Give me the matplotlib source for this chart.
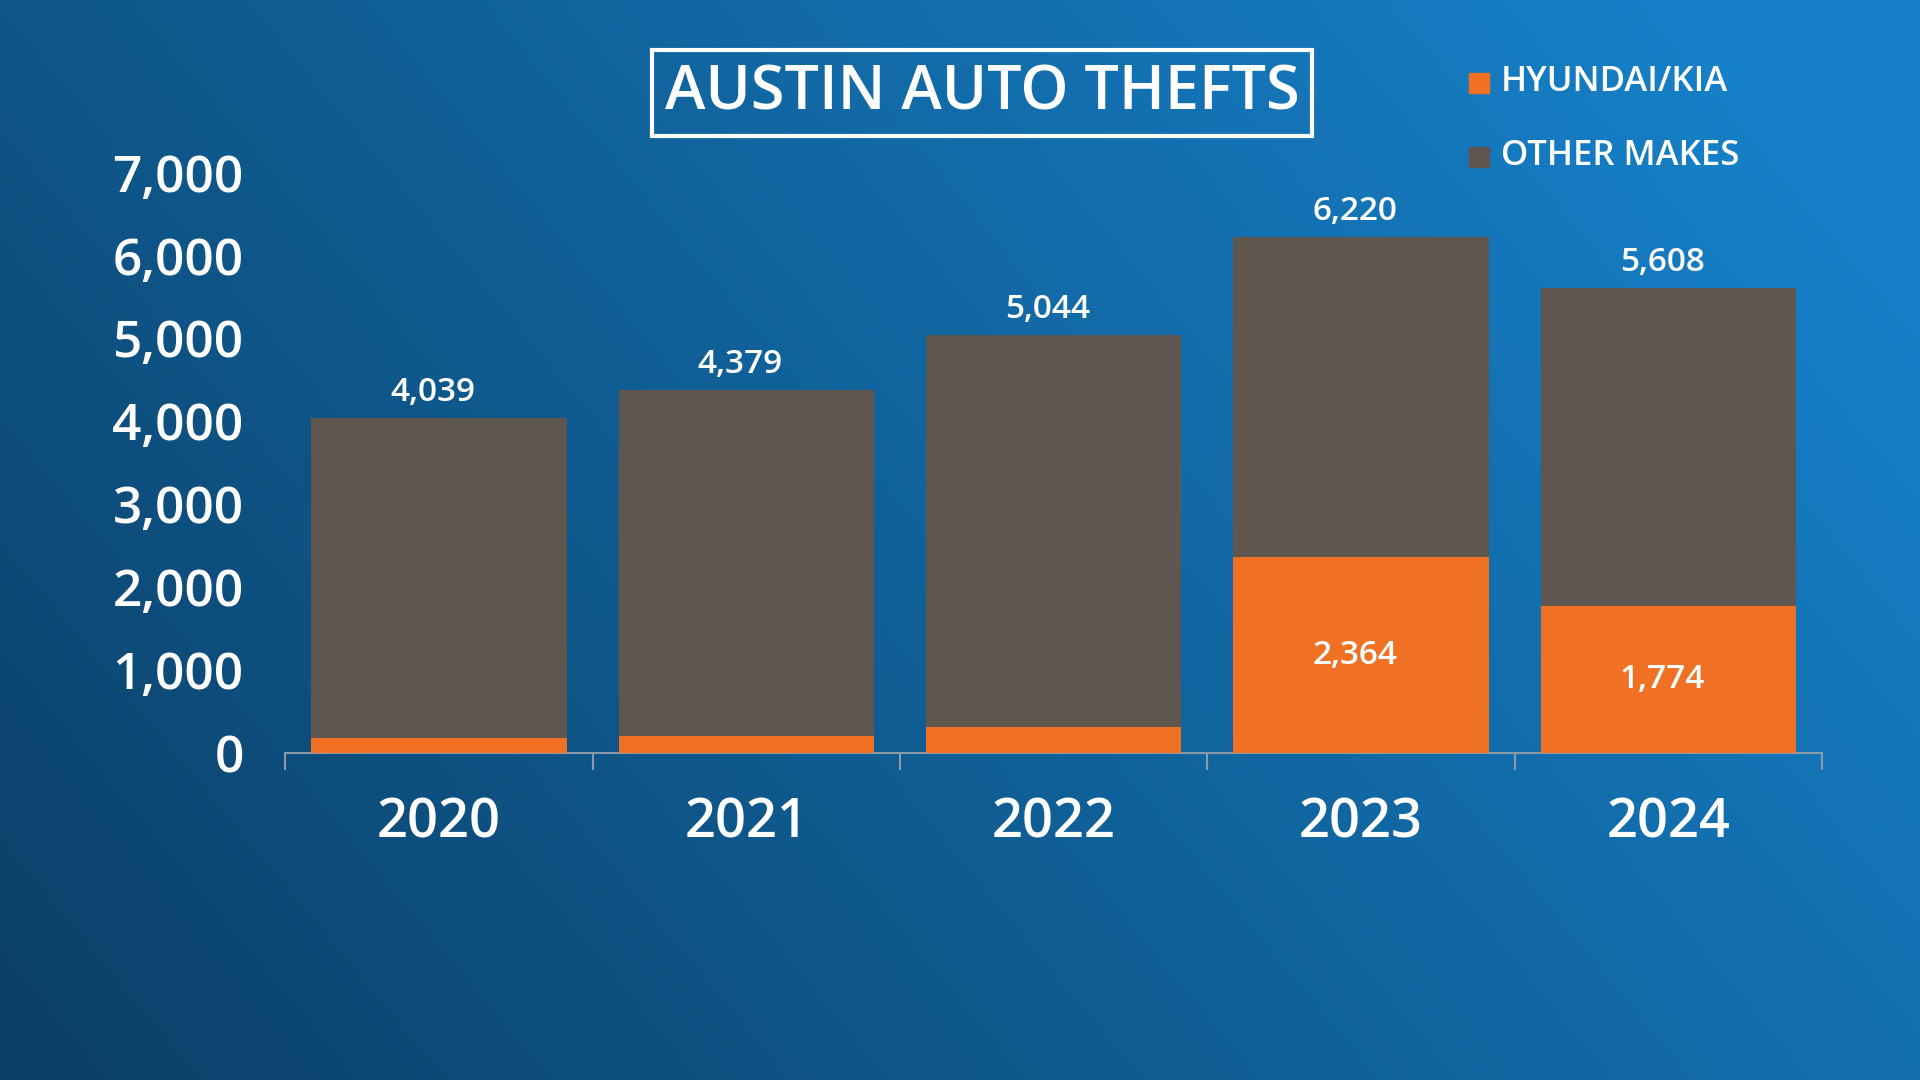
import numpy as np
import matplotlib
matplotlib.use("Agg")
import matplotlib.pyplot as plt
from matplotlib.patches import Rectangle

years = ["2020", "2021", "2022", "2023", "2024"]
totals = [4039, 4379, 5044, 6220, 5608]
hyundai_kia = [180, 210, 320, 2364, 1774]
hk_labels = [None, None, None, "2,364", "1,774"]
yticks = [0, 1000, 2000, 3000, 4000, 5000, 6000, 7000]

ORANGE = "#f07124"
GRAY = "#605650"
plt.rcParams['font.family'] = ['Open Sans', 'DejaVu Sans']

W, H = 1568, 882
fig = plt.figure(figsize=(19.2, 10.8), dpi=100)

# gradient background
bg = fig.add_axes([0, 0, 1, 1])
xx, yy = np.meshgrid(np.linspace(0, 1, 400), np.linspace(0, 1, 300))
t = np.clip(0.75 * xx + 0.35 * (1 - yy), 0, 1)
c0 = np.array([0x0b, 0x3f, 0x66]) / 255
c1 = np.array([0x16, 0x80, 0xc8]) / 255
img = c0[None, None, :] * (1 - t[..., None]) + c1[None, None, :] * t[..., None]
bg.imshow(img, aspect='auto', extent=[0, 1, 0, 1], origin='upper')
bg.axis('off')

def fx(px): return px / W
def fy(py): return 1 - py / H

ax = fig.add_axes([fx(233), fy(615), fx(1488) - fx(233), fy(141) - fy(615)])
ax.patch.set_alpha(0)
x = np.arange(len(years))
other = [t_ - h for t_, h in zip(totals, hyundai_kia)]
ax.bar(x, hyundai_kia, width=0.83, color=ORANGE, zorder=3)
ax.bar(x, other, bottom=hyundai_kia, width=0.83, color=GRAY, zorder=3)
for i, tot in enumerate(totals):
    ax.text(x[i] - 0.02, tot + 110, f"{tot:,}", ha='center', va='bottom',
            color='white', fontsize=24, fontweight='semibold')
    if hk_labels[i]:
        ax.text(x[i] - 0.02, hyundai_kia[i] / 2, hk_labels[i], ha='center', va='center',
                color='white', fontsize=24, fontweight='semibold')
ax.set_xlim(-0.5, 4.5)
ax.set_ylim(0, 7000)
ax.set_yticks(yticks)
ax.set_yticklabels([f"{v:,}" for v in yticks], color='white', fontsize=37, fontweight='semibold')
ax.tick_params(axis='y', length=0, pad=30)
ax.set_xticks(np.arange(-0.5, 5, 1), minor=False)
ax.set_xticklabels([])
ax.tick_params(axis='x', length=12, color='#8a9aa8', direction='out', width=1.5)
for i, yr in enumerate(years):
    ax.text(x[i], -520, yr, ha='center', va='top', color='white', fontsize=39, fontweight='semibold')
for s in ['top', 'right', 'left']:
    ax.spines[s].set_visible(False)
ax.spines['bottom'].set_color('#8a9aa8')
ax.spines['bottom'].set_linewidth(1.5)

# title
fig.text(fx(802), fy(76), "AUSTIN AUTO THEFTS", ha='center', va='center', color='white',
         fontsize=44, fontweight='semibold',
         bbox=dict(boxstyle='square,pad=0.2', fc='none', ec='white', lw=3))

# legend
for py, lab, col in [(67, "HYUNDAI/KIA", ORANGE), (127, "OTHER MAKES", GRAY)]:
    fig.patches.append(Rectangle((fx(1200), fy(py + 9)), fx(16), fy(0) - fy(16),
                                 transform=fig.transFigure, color=col))
    fig.text(fx(1226), fy(py), lab, ha='left', va='center', color='white',
             fontsize=25, fontweight='semibold')

fig.savefig("out.png", dpi=100)
